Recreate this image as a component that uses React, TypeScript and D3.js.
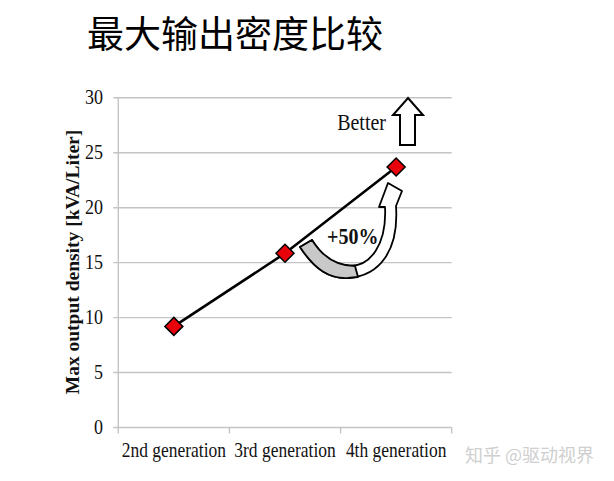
import React from "react";
import * as d3 from "d3";

const categories = ["2nd generation", "3rd generation", "4th generation"];
const values = [9.2, 15.85, 23.7];
const yTicks = [0, 5, 10, 15, 20, 25, 30];
const title = "最大输出密度比较";
const yTitle = "Max output density [kVA/Liter]";
const watermark = "知乎 @驱动视界";

export default function App() {
  const W = 614, H = 481;
  const x0 = 118.3, x1 = 451.7, yTop = 97.8, yBot = 427.5;
  const x = d3.scaleBand<string>().domain(categories).range([x0, x1]).padding(0);
  const y = d3.scaleLinear().domain([0, 30]).range([yBot, yTop]);
  const cx = (c: string) => (x(c) as number) + x.bandwidth() / 2;
  const line = d3.line<number>().x((_, i) => cx(categories[i])).y((v) => y(v));
  const serif = "'Liberation Serif', 'Times New Roman', serif";
  const grid = "#c4c4c4";
  const r = 9;
  const sy = 1.15;

  return (
    <svg width={W} height={H} style={{ position: "absolute", left: 0, top: 0, background: "#fff" }}>
      <text x={87} y={48} fontFamily="'Noto Sans CJK SC', sans-serif" fontSize={37} fill="#000">{title}</text>

      {yTicks.map((t) => (
        <g key={t}>
          <line x1={x0 - 5} x2={x1} y1={y(t)} y2={y(t)} stroke={grid} strokeWidth={1.4} />
          <text transform={`translate(103,${y(t) + 6.5}) scale(1,${sy})`} textAnchor="end" fontFamily={serif} fontSize={18} fill="#111">{t}</text>
        </g>
      ))}
      <line x1={x0} x2={x0} y1={yTop} y2={yBot} stroke={grid} strokeWidth={1.4} />
      {[x0, ...categories.map((c) => (x(c) as number) + x.bandwidth())].map((px, i) => (
        <line key={i} x1={px} x2={px} y1={yBot} y2={yBot + 6} stroke={grid} strokeWidth={1.4} />
      ))}
      {categories.map((c) => (
        <text key={c} transform={`translate(${cx(c)},457) scale(1,${sy})`} textAnchor="middle" fontFamily={serif} fontSize={17.5} fill="#111">{c}</text>
      ))}

      <text transform={`translate(79,262) rotate(-90)`} textAnchor="middle" fontFamily={serif} fontWeight="bold" fontSize={19.5} fill="#111">{yTitle}</text>

      <path d={line(values) || ""} fill="none" stroke="#000" strokeWidth={2.6} />
      {values.map((v, i) => {
        const px = cx(categories[i]), py = y(v);
        return (
          <path key={i} d={`M${px},${py - r}L${px + r},${py}L${px},${py + r}L${px - r},${py}Z`} fill="#e8000b" stroke="#000" strokeWidth={1.5} />
        );
      })}

      {/* Better arrow */}
      <text transform={`translate(386,130) scale(1,${sy})`} textAnchor="end" fontFamily={serif} fontSize={20} fill="#111">Better</text>
      <path d="M408,98 L423,115 L415,115 L415,145 L400,145 L400,115 L393,115 Z" fill="#fff" stroke="#000" strokeWidth={2} strokeLinejoin="miter" />

      {/* curved +50% arrow */}
      <path d="M300,247 C315,270 330,279 348,278 C380,276 399,250 396,206 L402,191 L388,183 L379,207 L385,207 C387,245 370,266 350,266 C335,266 322,256 312,240 Z" fill="#fff" stroke="#000" strokeWidth={1.8} strokeLinejoin="round" />
      <path d="M300,247 C315,270 330,279 348,278 L358,277 L355,266 C336,266 322,256 312,240 Z" fill="#c8c8c8" stroke="#000" strokeWidth={1.8} strokeLinejoin="round" />
      <text transform={`translate(327,243.5) scale(1,${sy})`} fontFamily={serif} fontWeight="bold" fontSize={20} fill="#111">+50%</text>

      <text x={465} y={462} fontFamily="'Noto Sans CJK SC', sans-serif" fontSize={18} fill="#cfcfcf">{watermark}</text>
    </svg>
  );
}
